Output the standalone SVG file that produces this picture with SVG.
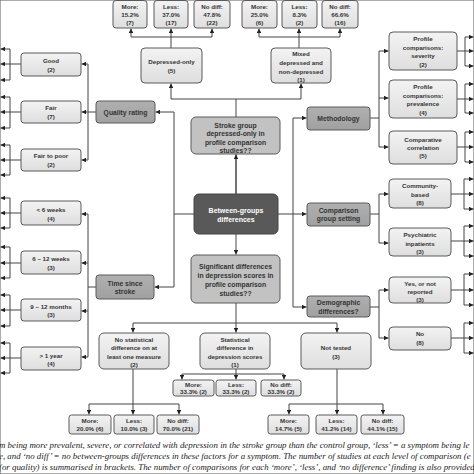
<svg xmlns="http://www.w3.org/2000/svg" width="474" height="474" viewBox="0 0 474 474">
<defs>
<linearGradient id="gl" x1="0" y1="0" x2="0" y2="1"><stop offset="0" stop-color="#f3f3f3"/><stop offset="1" stop-color="#dedede"/></linearGradient>
<linearGradient id="gm" x1="0" y1="0" x2="0" y2="1"><stop offset="0" stop-color="#b0b0b0"/><stop offset="1" stop-color="#a0a0a0"/></linearGradient>
<marker id="a" viewBox="0 0 10 10" refX="10" refY="5" markerWidth="4.5" markerHeight="4.5" markerUnits="userSpaceOnUse" orient="auto"><path d="M0,0L10,5L0,10z" fill="#222"/></marker>
<style>
rect{stroke:#5a5a5a;stroke-width:1}
.lf{fill:url(#gl)}
.md{fill:url(#gm)}
.mg{fill:#c2c2c2}
.dk{fill:#595959;stroke:#444}
text{font-family:"Liberation Sans",Arial,sans-serif;font-size:6.2px;font-weight:bold;fill:#333;text-anchor:middle}
.w{fill:#fff;font-size:7px}
.b{font-size:6.8px}
.cap{font-family:"Liberation Serif","Times New Roman",serif;font-style:italic;font-weight:normal;font-size:8.85px;fill:#222;text-anchor:start}
#conn path{fill:none;stroke:#444;stroke-width:1}
#conn path.ar{marker-end:url(#a)}
</style>
</defs>
<rect x="0" y="0" width="474" height="474" fill="#fff" stroke="none"/>
<g id="conn">
<path d="M131,37H212M259,37H340M171,99H301M236,117V99M236,194V154"/>
<path class="ar" d="M131,37V28.5"/><path class="ar" d="M171,48V28.5"/><path class="ar" d="M212,37V28.5"/>
<path class="ar" d="M259,37V28.5"/><path class="ar" d="M299,48V28.5"/><path class="ar" d="M340,37V28.5"/>
<path class="ar" d="M171,99V83.5"/><path class="ar" d="M301,99V83.5"/>
<path class="ar" d="M236,200V154.5"/><path class="ar" d="M236,234V254.5"/>
<path d="M194,214H174M174,112V287M293,118V307"/>
<path class="ar" d="M174,112H155.5"/><path class="ar" d="M174,287H154.5"/>
<path class="ar" d="M278,214H306.5"/><path class="ar" d="M293,118H306.5"/><path class="ar" d="M293,307H306.5"/>
<path d="M96,112H88M88,64V160M96,287H88M88,214V357"/>
<path class="ar" d="M88,64H81.5"/><path class="ar" d="M88,112H81.5"/><path class="ar" d="M88,160H81.5"/>
<path class="ar" d="M88,214H81.5"/><path class="ar" d="M88,263H81.5"/><path class="ar" d="M88,311H81.5"/><path class="ar" d="M88,357H81.5"/>
<path d="M21,64H10M10,49V80M21,112H10M10,97V128M21,160H10M10,145V175M21,213H10M10,198V228M21,263H10M10,247V278M21,310H10M10,295V326M21,358H10M10,343V373"/>
<path class="ar" d="M10,49H0.5"/><path class="ar" d="M10,64H0.5"/><path class="ar" d="M10,80H0.5"/>
<path class="ar" d="M10,97H0.5"/><path class="ar" d="M10,112H0.5"/><path class="ar" d="M10,128H0.5"/>
<path class="ar" d="M10,145H0.5"/><path class="ar" d="M10,160H0.5"/><path class="ar" d="M10,175H0.5"/>
<path class="ar" d="M10,198H0.5"/><path class="ar" d="M10,213H0.5"/><path class="ar" d="M10,228H0.5"/>
<path class="ar" d="M10,247H0.5"/><path class="ar" d="M10,263H0.5"/><path class="ar" d="M10,278H0.5"/>
<path class="ar" d="M10,295H0.5"/><path class="ar" d="M10,310H0.5"/><path class="ar" d="M10,326H0.5"/>
<path class="ar" d="M10,343H0.5"/><path class="ar" d="M10,358H0.5"/><path class="ar" d="M10,373H0.5"/>
<path d="M370,118H379M379,51V147M370,214H379M379,194V243M370,307H379M379,290V338"/>
<path class="ar" d="M379,51H388.5"/><path class="ar" d="M379,98H388.5"/><path class="ar" d="M379,147H388.5"/>
<path class="ar" d="M379,194H388.5"/><path class="ar" d="M379,243H388.5"/>
<path class="ar" d="M379,290H388.5"/><path class="ar" d="M379,338H388.5"/>
<path d="M457,51H465M465,37V66M457,99H465M465,84V113M457,147H465M465,132V162M451,194H464M464,179V209M451,241H464M464,226V256M451,290H464M464,274V305M451,338H464M464,323V353"/>
<path class="ar" d="M465,37H473.5"/><path class="ar" d="M465,51H473.5"/><path class="ar" d="M465,66H473.5"/>
<path class="ar" d="M465,84H473.5"/><path class="ar" d="M465,99H473.5"/><path class="ar" d="M465,113H473.5"/>
<path class="ar" d="M465,132H473.5"/><path class="ar" d="M465,147H473.5"/><path class="ar" d="M465,162H473.5"/>
<path class="ar" d="M464,179H473.5"/><path class="ar" d="M464,194H473.5"/><path class="ar" d="M464,209H473.5"/>
<path class="ar" d="M464,226H473.5"/><path class="ar" d="M464,241H473.5"/><path class="ar" d="M464,256H473.5"/>
<path class="ar" d="M464,274H473.5"/><path class="ar" d="M464,290H473.5"/><path class="ar" d="M464,305H473.5"/>
<path class="ar" d="M464,323H473.5"/><path class="ar" d="M464,338H473.5"/><path class="ar" d="M464,353H473.5"/>
<path d="M133,323H337"/>
<path class="ar" d="M236,303V332.5"/><path class="ar" d="M133,323V332.5"/><path class="ar" d="M337,323V332.5"/>
<path d="M133,369V404M89,404H179M236,369V374M182,374H284M337,369V404M289,404H383"/>
<path class="ar" d="M89,404V414.5"/><path class="ar" d="M133,404V414.5"/><path class="ar" d="M179,404V414.5"/>
<path class="ar" d="M182,374V379.5"/><path class="ar" d="M236,374V379.5"/><path class="ar" d="M284,374V379.5"/>
<path class="ar" d="M289,404V414.5"/><path class="ar" d="M337,404V414.5"/><path class="ar" d="M383,404V414.5"/>
</g>
<g id="t1"><rect class="lf" x="113" y="0.5" width="34" height="27.5" rx="3"/><text x="130" y="9">More:</text><text x="130" y="17">15.2%</text><text x="130" y="25">(7)</text></g>
<g id="t2"><rect class="lf" x="154" y="0.5" width="34" height="27.5" rx="3"/><text x="171" y="9">Less:</text><text x="171" y="17">37.0%</text><text x="171" y="25">(17)</text></g>
<g id="t3"><rect class="lf" x="194" y="0.5" width="36" height="27.5" rx="3"/><text x="212" y="9">No diff:</text><text x="212" y="17">47.8%</text><text x="212" y="25">(22)</text></g>
<g id="t4"><rect class="lf" x="242" y="0.5" width="35" height="27.5" rx="3"/><text x="259.5" y="9">More:</text><text x="259.5" y="17">25.0%</text><text x="259.5" y="25">(6)</text></g>
<g id="t5"><rect class="lf" x="282" y="0.5" width="35" height="27.5" rx="3"/><text x="299.5" y="9">Less:</text><text x="299.5" y="17">8.3%</text><text x="299.5" y="25">(2)</text></g>
<g id="t6"><rect class="lf" x="322" y="0.5" width="36" height="27.5" rx="3"/><text x="340" y="9">No diff:</text><text x="340" y="17">66.6%</text><text x="340" y="25">(16)</text></g>
<g id="depressed-only"><rect class="lf" x="141" y="48" width="61" height="35" rx="4"/><text x="171.5" y="64">Depressed-only</text><text x="171.5" y="73">(5)</text></g>
<g id="mixed"><rect class="lf" x="271" y="48" width="60" height="35" rx="4"/><text x="301" y="56">Mixed</text><text x="301" y="65">depressed and</text><text x="301" y="73.5">non-depressed</text><text x="301" y="82">(1)</text></g>
<g id="stroke-group"><rect class="mg" x="191" y="117" width="89" height="37" rx="5"/><text class="b" x="235.5" y="127.5">Stroke group</text><text class="b" x="235.5" y="136">depressed-only in</text><text class="b" x="235.5" y="144.5">profile comparison</text><text class="b" x="235.5" y="153">studies??</text></g>
<g id="between"><rect class="dk" x="194" y="194" width="84" height="40" rx="5"/><text class="w" x="236" y="212.5">Between-groups</text><text class="w" x="236" y="221.5">differences</text></g>
<g id="significant"><rect class="mg" x="191" y="255" width="89" height="48" rx="5"/><text class="b" x="235.5" y="268.5">Significant differences</text><text class="b" x="235.5" y="277.5">in depression scores in</text><text class="b" x="235.5" y="286.5">profile comparison</text><text class="b" x="235.5" y="295.5">studies??</text></g>
<g id="quality"><rect class="md" x="96" y="101" width="59" height="22" rx="3"/><text class="b" x="125.5" y="114.5">Quality rating</text></g>
<g id="time"><rect class="md" x="96" y="275" width="58" height="24" rx="3"/><text class="b" x="125" y="285.5">Time since</text><text class="b" x="125" y="294">stroke</text></g>
<g id="good"><rect class="lf" x="21" y="53" width="60" height="23" rx="3"/><text x="51" y="63">Good</text><text x="51" y="72">(2)</text></g>
<g id="fair"><rect class="lf" x="21" y="101" width="60" height="22" rx="3"/><text x="51" y="110">Fair</text><text x="51" y="119">(7)</text></g>
<g id="fair-poor"><rect class="lf" x="21" y="149" width="60" height="22" rx="3"/><text x="51" y="158">Fair to poor</text><text x="51" y="167">(2)</text></g>
<g id="lt6w"><rect class="lf" x="21" y="201" width="60" height="24" rx="3"/><text x="51" y="212">&lt; 6 weeks</text><text x="51" y="221">(4)</text></g>
<g id="w6-12"><rect class="lf" x="21" y="251" width="60" height="23" rx="3"/><text x="51" y="261">6 – 12 weeks</text><text x="51" y="270">(3)</text></g>
<g id="m9-12"><rect class="lf" x="21" y="299" width="60" height="22" rx="3"/><text x="51" y="308.5">9 – 12 months</text><text x="51" y="317">(3)</text></g>
<g id="gt1y"><rect class="lf" x="21" y="347" width="60" height="23" rx="3"/><text x="51" y="357.5">&gt; 1 year</text><text x="51" y="366">(4)</text></g>
<g id="methodology"><rect class="md" x="307" y="107" width="63" height="23" rx="3"/><text class="b" x="338.5" y="120.5">Methodology</text></g>
<g id="comparison"><rect class="md" x="307" y="203" width="63" height="23" rx="3"/><text class="b" x="338.5" y="212.5">Comparison</text><text class="b" x="338.5" y="221">group setting</text></g>
<g id="demographic"><rect class="md" x="307" y="296" width="63" height="21" rx="3"/><text class="b" x="338.5" y="305">Demographic</text><text class="b" x="338.5" y="313.5">differences?</text></g>
<g id="severity"><rect class="lf" x="389" y="32" width="68" height="38" rx="4"/><text x="423" y="41">Profile</text><text x="423" y="49.5">comparisons:</text><text x="423" y="58">severity</text><text x="423" y="66.5">(2)</text></g>
<g id="prevalence"><rect class="lf" x="389" y="80" width="68" height="38" rx="4"/><text x="423" y="89">Profile</text><text x="423" y="97.5">comparisons:</text><text x="423" y="106">prevalence</text><text x="423" y="114.5">(4)</text></g>
<g id="correlation"><rect class="lf" x="389" y="131" width="68" height="33" rx="4"/><text x="423" y="142">Comparative</text><text x="423" y="150">correlation</text><text x="423" y="158">(5)</text></g>
<g id="community"><rect class="lf" x="389" y="179" width="62" height="29" rx="4"/><text x="420" y="188">Community-</text><text x="420" y="196.5">based</text><text x="420" y="205">(8)</text></g>
<g id="psychiatric"><rect class="lf" x="389" y="228" width="62" height="28" rx="4"/><text x="420" y="237">Psychiatric</text><text x="420" y="245.5">inpatients</text><text x="420" y="254">(3)</text></g>
<g id="yes"><rect class="lf" x="389" y="277" width="62" height="26" rx="4"/><text x="420" y="286">Yes, or not</text><text x="420" y="294">reported</text><text x="420" y="302">(3)</text></g>
<g id="no"><rect class="lf" x="389" y="327" width="62" height="23" rx="4"/><text x="420" y="336">No</text><text x="420" y="345">(8)</text></g>
<g id="no-stat"><rect class="lf" x="99" y="333" width="70" height="36" rx="5"/><text x="134" y="341.5">No statistical</text><text x="134" y="350">difference on at</text><text x="134" y="358.5">least one measure</text><text x="134" y="367">(2)</text></g>
<g id="statistical"><rect class="lf" x="200" y="333" width="70" height="36" rx="5"/><text x="235" y="341.5">Statistical</text><text x="235" y="350">difference in</text><text x="235" y="358.5">depression scores</text><text x="235" y="367">(1)</text></g>
<g id="not-tested"><rect class="lf" x="301" y="333" width="70" height="36" rx="5"/><text x="336" y="350">Not tested</text><text x="336" y="358.5">(3)</text></g>
<g id="r1"><rect class="lf" x="173" y="380" width="41" height="16" rx="2.5"/><text x="193.5" y="387">More:</text><text x="193.5" y="394">33.3% (2)</text></g>
<g id="r2"><rect class="lf" x="216" y="380" width="40" height="16" rx="2.5"/><text x="236" y="387">Less:</text><text x="236" y="394">33.3% (2)</text></g>
<g id="r3"><rect class="lf" x="261" y="380" width="40" height="16" rx="2.5"/><text x="281" y="387">No diff:</text><text x="281" y="394">33.3% (2)</text></g>
<g id="b1"><rect class="lf" x="69" y="415" width="42" height="19" rx="2.5"/><text x="90" y="423">More:</text><text x="90" y="431">20.0% (6)</text></g>
<g id="b2"><rect class="lf" x="114" y="415" width="40" height="19" rx="2.5"/><text x="134" y="423">Less:</text><text x="134" y="431">10.0% (3)</text></g>
<g id="b3"><rect class="lf" x="157" y="415" width="42" height="19" rx="2.5"/><text x="178" y="423">No diff:</text><text x="178" y="431">70.0% (21)</text></g>
<g id="b4"><rect class="lf" x="268" y="415" width="41" height="19" rx="2.5"/><text x="288.5" y="423">More:</text><text x="288.5" y="431">14.7% (5)</text></g>
<g id="b5"><rect class="lf" x="316" y="415" width="41" height="19" rx="2.5"/><text x="336.5" y="423">Less:</text><text x="336.5" y="431">41.2% (14)</text></g>
<g id="b6"><rect class="lf" x="361" y="415" width="43" height="19" rx="2.5"/><text x="382.5" y="423">No diff:</text><text x="382.5" y="431">44.1% (15)</text></g>
<g id="caption">
<text class="cap" x="-1" y="448">m being more prevalent, severe, or correlated with depression in the stroke group than the control group, ‘less’ = a symptom being le</text>
<text class="cap" x="-1" y="459">e, and ‘no diff’ = no between-groups differences in these factors for a symptom. The number of studies at each level of comparison (e</text>
<text class="cap" x="-1" y="470">(or quality) is summarised in brackets. The number of comparisons for each ‘more’, ‘less’, and ‘no difference’ finding is also provided</text>
</g>
</svg>
